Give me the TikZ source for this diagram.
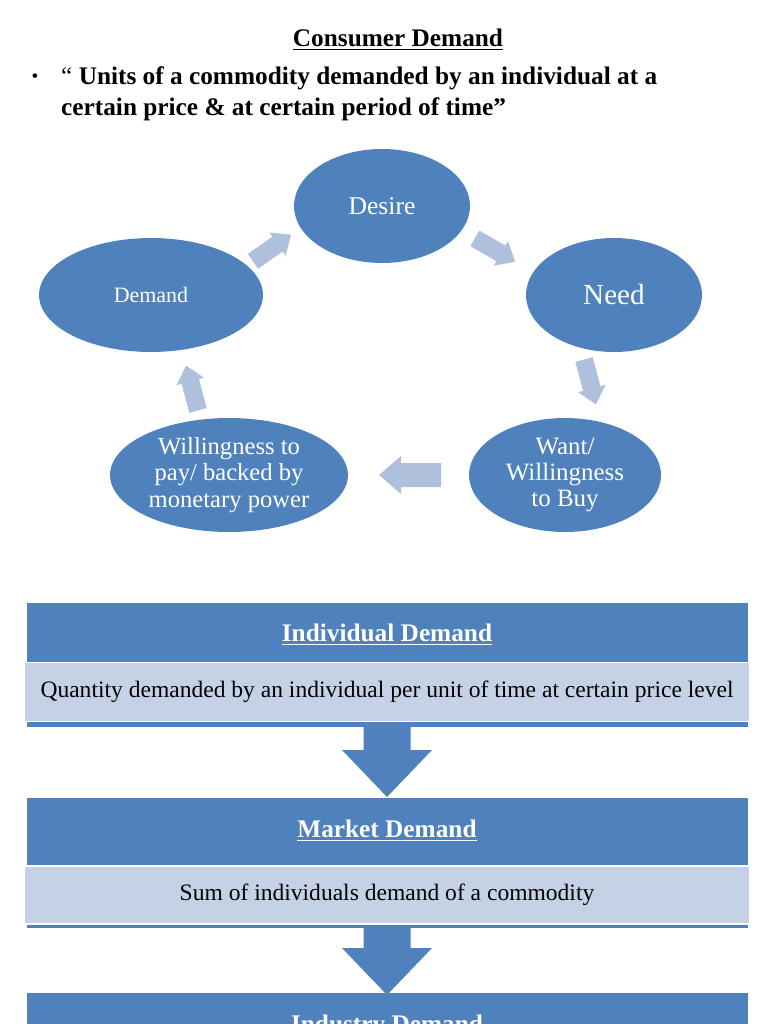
\documentclass[tikz,border=0pt]{standalone}
\usepackage{fontspec}
\setmainfont{Liberation Serif}
\usetikzlibrary{shapes.geometric}
\definecolor{darkblue}{HTML}{4F81BD}
\definecolor{lightblue}{HTML}{AFC0DC}
\definecolor{paleblue}{HTML}{C5D2E6}
\tikzset{
  stage/.style={ellipse,fill=darkblue,text=white,align=center,inner sep=0pt,
    minimum height=2.28cm},
  pics/turn/.style={code={
    \fill[lightblue] (-31,-12) -- (9,-12) -- (9,-19) -- (31,0) -- (9,19) -- (9,12) -- (-31,12) -- cycle;}},
  pics/drop/.style={code={
    \fill[darkblue] (-23.5,-35) -- (23.5,-35) -- (23.5,-12) -- (45,-12) -- (0,35) -- (-45,-12)
      -- (-23.5,-12) -- cycle;}},
  band/.style={fill=darkblue,text=white,font=\fontsize{14.4}{16}\selectfont\bfseries},
  note/.style={fill=paleblue,draw=white,line width=0.6pt,
    font=\fontsize{13.4}{15}\selectfont,minimum width=14.5cm}
}
\begin{document}
\begin{tikzpicture}[x=0.02cm,y=-0.02cm]
    \useasboundingbox (0,0) rectangle (768,1024);

    % Heading and definition
    \node (title) at (398,40) {\fontsize{14.4}{16}\selectfont\bfseries\underline{Consumer Demand}};
    \node (dot) at (35,78) {\fontsize{11}{12}\selectfont\textbullet};
    \node[anchor=west,align=left,font=\fontsize{14.4}{17.5}\selectfont\bfseries] (def) at (55,94)
      {{\mdseries``} Units of a commodity demanded by an individual at a\\certain price \& at certain period of time''};

    % Cycle of stages
    \node[stage,minimum width=3.52cm,font=\fontsize{14.6}{16}\selectfont] (desire) at (382,206) {Desire};
    \node[stage,minimum width=3.52cm,font=\fontsize{16.6}{18}\selectfont] (need) at (614,295) {Need};
    \node[stage,minimum width=3.84cm,font=\fontsize{14.2}{15}\selectfont] (want) at (565,475) {Want/\\Willingness\\to Buy};
    \node[stage,minimum width=4.76cm,font=\fontsize{14}{15}\selectfont] (willing) at (229,475)
      {Willingness to\\pay/ backed by\\monetary power};
    \node[stage,minimum width=4.48cm,font=\fontsize{12.5}{14}\selectfont] (demand) at (151,295) {Demand};

    % Arrows between stages
    \pic[rotate=35,scale=0.75] (a1) at (272,248) {turn};
    \pic[rotate=-30,scale=0.75] (a2) at (495,250) {turn};
    \pic[rotate=-75,scale=0.75] (a3) at (590,382) {turn};
    \pic[rotate=180] (a4) at (410,475) {turn};
    \pic[rotate=105,scale=0.75] (a5) at (192,388) {turn};

    % Levels of demand
    \fill[darkblue] (27,603) rectangle (748,727);
    \node[band] (indiv) at (387,635) {\underline{Individual Demand}};
    \node[note,minimum height=1.18cm] (indivtxt) at (387,692)
      {Quantity demanded by an individual per unit of time at certain price level};
    \pic (d1) at (387,762) {drop};

    \fill[darkblue] (27,798) rectangle (748,928);
    \node[band] (market) at (387,831) {\underline{Market Demand}};
    \node[note,minimum height=1.16cm] (markettxt) at (387,895) {Sum of individuals demand of a commodity};
    \pic (d2) at (387,960) {drop};

    \fill[darkblue] (27,993) rectangle (748,1024);
    \begin{scope}
      \clip (0,993) rectangle (768,1024);
      \node[band] (industry) at (387,1028) {\underline{Industry Demand}};
    \end{scope}
\end{tikzpicture}
\end{document}
